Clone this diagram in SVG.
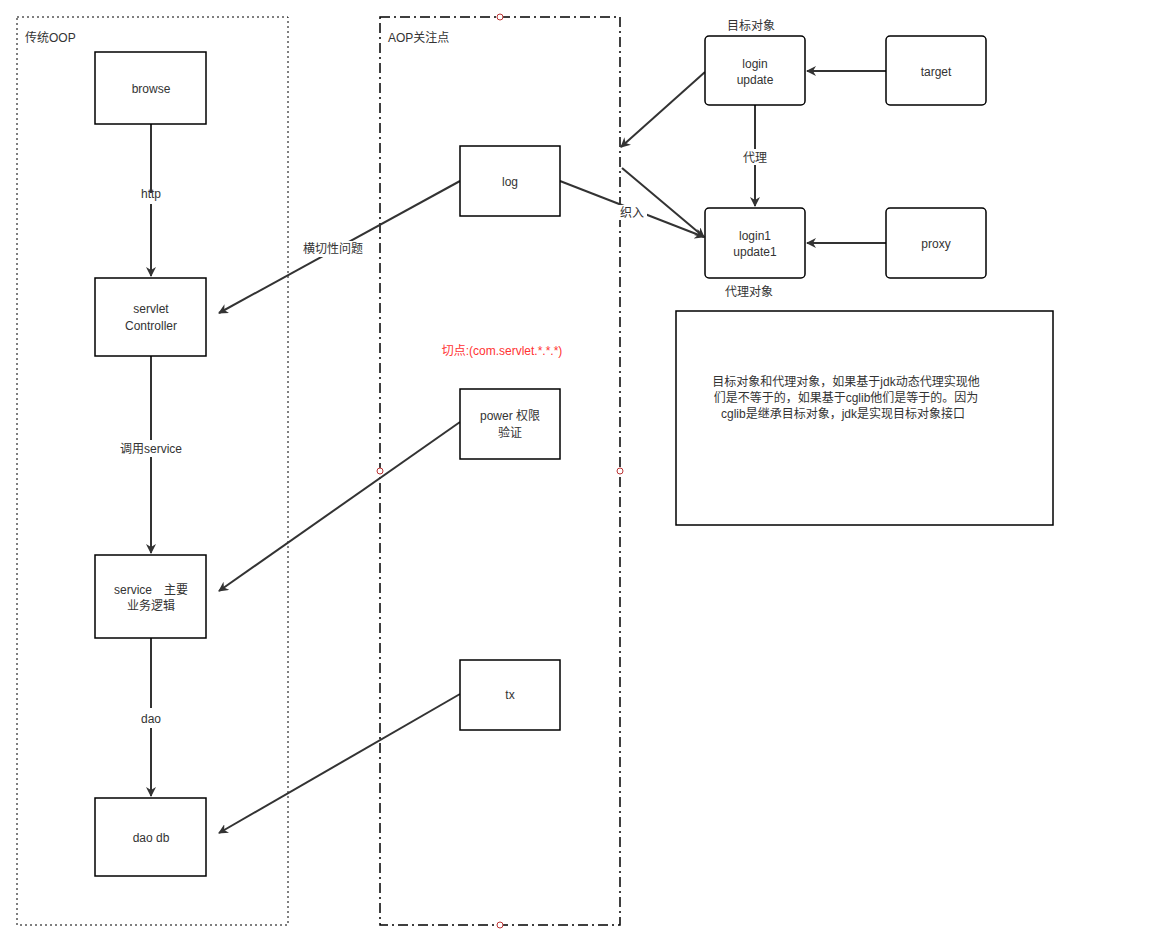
<svg xmlns="http://www.w3.org/2000/svg" width="1158" height="950" viewBox="0 0 1158 950">
<style>
.b{fill:#fff;stroke:#000;stroke-width:1.5}
.t{font-family:"Liberation Sans","Noto Sans CJK SC",sans-serif;font-size:12px;fill:#333;text-anchor:middle}
.l{font-family:"Liberation Sans","Noto Sans CJK SC",sans-serif;font-size:12px;fill:#333}
.c{stroke:#333;stroke-width:2;fill:none}
.lb{fill:#fff}
</style>
<defs><marker id="a" markerWidth="10" markerHeight="10" refX="9" refY="5" orient="auto" markerUnits="userSpaceOnUse" viewBox="0 0 10 10"><path d="M0,0 L10,5 L0,10 L3,5 Z" fill="#333"/></marker></defs>
<rect width="1158" height="950" fill="#fff"/>
<g id="oop"><rect x="17" y="17" width="271" height="908" fill="none" stroke="#000" stroke-dasharray="2,3"/><text class="l" x="25" y="42">传统OOP</text></g>
<g id="aop"><rect x="380" y="17" width="240" height="908" fill="none" stroke="#000" stroke-width="1.5" stroke-dasharray="10,4,2,4"/><text class="l" x="388" y="42">AOP关注点</text>
<g fill="#fff" stroke="#b33"><circle cx="500" cy="17" r="3"/><circle cx="500" cy="925" r="3"/><circle cx="380" cy="471" r="3"/><circle cx="620" cy="471" r="3"/></g></g>
<g id="conn">
<path class="c" d="M151 124V193M151 204V276" marker-end="url(#a)"/>
<text class="t" x="151" y="198">http</text>
<path class="c" d="M151 356V440M151 457V553" marker-end="url(#a)"/>
<text class="t" x="151" y="453">调用service</text>
<path class="c" d="M151 638V708M151 728V796" marker-end="url(#a)"/>
<text class="t" x="151" y="723">dao</text>
<path class="c" d="M460 181L219 313" marker-end="url(#a)"/>
<rect class="lb" x="298" y="241" width="70" height="16"/><text class="t" x="333" y="253">横切性问题</text>
<path class="c" d="M460 422L219 591" marker-end="url(#a)"/>
<path class="c" d="M460 694L219 833" marker-end="url(#a)"/>
<path class="c" d="M705 72L621 147" marker-end="url(#a)"/>
<path class="c" d="M622 168L704 237" marker-end="url(#a)"/>
<path class="c" d="M560 181L704 237" marker-end="url(#a)"/>
<rect class="lb" x="617" y="205" width="30" height="15"/><text class="t" x="632" y="217">织入</text>
<path class="c" d="M755 105V206" marker-end="url(#a)"/>
<rect class="lb" x="738" y="149" width="34" height="16"/><text class="t" x="755" y="162">代理</text>
<path class="c" d="M886 71H807" marker-end="url(#a)"/>
<path class="c" d="M886 243H807" marker-end="url(#a)"/>
</g>
<g id="browse"><rect class="b" x="95" y="52" width="111" height="72"/><text class="t" x="151" y="93">browse</text></g>
<g id="servlet"><rect class="b" x="95" y="278" width="111" height="78"/><text class="t" x="151" y="313">servlet</text><text class="t" x="151" y="330">Controller</text></g>
<g id="service"><rect class="b" x="95" y="555" width="111" height="83"/><text class="t" x="151" y="594">service　主要</text><text class="t" x="151" y="610">业务逻辑</text></g>
<g id="daodb"><rect class="b" x="95" y="798" width="111" height="78"/><text class="t" x="151" y="842">dao db</text></g>
<g id="log"><rect class="b" x="460" y="146" width="100" height="70"/><text class="t" x="510" y="186">log</text></g>
<g id="power"><rect class="b" x="460" y="389" width="100" height="70"/><text class="t" x="510" y="420">power 权限</text><text class="t" x="510" y="437">验证</text></g>
<g id="tx"><rect class="b" x="460" y="660" width="100" height="70"/><text class="t" x="510" y="699">tx</text></g>
<text x="502" y="355" font-family="Liberation Sans,Noto Sans CJK SC,sans-serif" font-size="12" fill="#f33" text-anchor="middle">切点:(com.servlet.*.*.*)</text>
<g id="login"><rect class="b" x="705" y="36" width="100" height="69" rx="4"/><text class="t" x="755" y="68">login</text><text class="t" x="755" y="84">update</text><text class="t" x="751" y="30">目标对象</text></g>
<g id="login1"><rect class="b" x="705" y="208" width="100" height="70" rx="4"/><text class="t" x="755" y="240">login1</text><text class="t" x="755" y="256">update1</text><text class="t" x="749" y="296">代理对象</text></g>
<g id="target"><rect class="b" x="886" y="36" width="100" height="69" rx="4"/><text class="t" x="936" y="76">target</text></g>
<g id="proxy"><rect class="b" x="886" y="208" width="100" height="70" rx="4"/><text class="t" x="936" y="248">proxy</text></g>
<g id="note"><rect class="b" x="676" y="311" width="377" height="214"/><text class="t" x="846" y="386">目标对象和代理对象，如果基于jdk动态代理实现他</text><text class="t" x="846" y="402">们是不等于的，如果基于cglib他们是等于的。因为</text><text class="t" x="843" y="418">cglib是继承目标对象，jdk是实现目标对象接口</text></g>
</svg>
